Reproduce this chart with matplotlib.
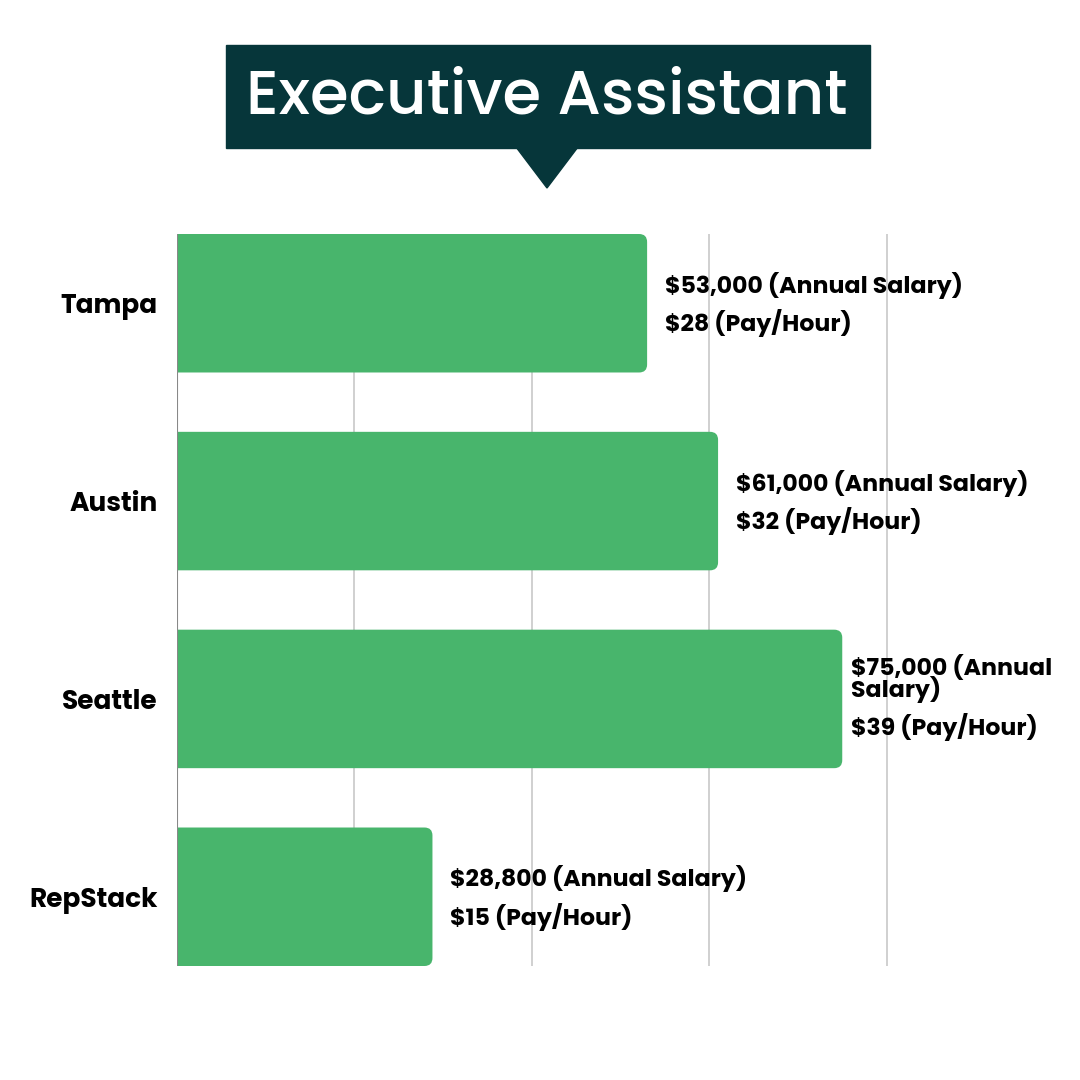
import matplotlib
matplotlib.use("Agg")
import matplotlib.pyplot as plt
from matplotlib.patches import Rectangle, Polygon, FancyBboxPatch

cities = ["Tampa", "Austin", "Seattle", "RepStack"]
salaries = [53000, 61000, 75000, 28800]
salary_labels = ["$53,000 (Annual Salary)", "$61,000 (Annual Salary)", "$75,000 (Annual\nSalary)", "$28,800 (Annual Salary)"]
hourly_labels = ["$28 (Pay/Hour)", "$32 (Pay/Hour)", "$39 (Pay/Hour)", "$15 (Pay/Hour)"]
grid_ticks = [20000, 40000, 60000, 80000]
title = "Executive Assistant"

plt.rcParams['font.family'] = ['Poppins', 'Inter', 'DejaVu Sans']
fig = plt.figure(figsize=(10.8, 10.8), dpi=100)
ax = fig.add_axes([177/1080, 1-966/1080, 887/1080, 732/1080])
ypos = list(range(len(cities)))
ax.set_xlim(0, 100000)
ax.set_ylim(3.35, -0.35)
xpp = 100000/887
ypp = 3.7/732
r = 8
for y, v in zip(ypos, salaries):
    p = FancyBboxPatch((-3000 + r*xpp, y - 0.35 + r*ypp), v + 3000 - 2*r*xpp, 0.7 - 2*r*ypp,
                       boxstyle=f"round,pad={r*xpp}", mutation_aspect=ypp/xpp,
                       facecolor="#48B56C", edgecolor="none", zorder=2)
    ax.add_patch(p)
for t in grid_ticks:
    ax.axvline(t, color="#C8C8C8", lw=1.2, zorder=1)
ax.axvline(0, color="#888888", lw=1.5, zorder=3)
for s in ax.spines.values():
    s.set_visible(False)
ax.set_xticks([])
ax.set_yticks(ypos)
ax.set_yticklabels(cities, fontsize=19, fontweight="bold")
ax.tick_params(axis="y", length=0, pad=14)
fs = 17
for y, v, a, h in zip(ypos, salaries, salary_labels, hourly_labels):
    if "\n" in a:
        ax.annotate(a, (v, y + 0.02), xytext=(9, 0), textcoords="offset pixels", fontsize=fs, fontweight="bold", va="bottom", ha="left", linespacing=0.75)
        ax.annotate(h, (v, y + 0.14), xytext=(9, 0), textcoords="offset pixels", fontsize=fs, fontweight="bold", va="center", ha="left")
    else:
        ax.annotate(a, (v, y - 0.09), xytext=(18, 0), textcoords="offset pixels", fontsize=fs, fontweight="bold", va="center", ha="left")
        ax.annotate(h, (v, y + 0.1), xytext=(18, 0), textcoords="offset pixels", fontsize=fs, fontweight="bold", va="center", ha="left")

# title box
fig.patches.append(Rectangle((226/1080, 1-148/1080), 644/1080, 103/1080, transform=fig.transFigure, color="#06363A"))
fig.patches.append(Polygon([(516/1080, 1-147/1080), (578/1080, 1-147/1080), (547/1080, 1-188/1080)], closed=True, transform=fig.transFigure, color="#06363A"))
fig.text(547/1080, 1-98/1080, title, color="white", fontsize=45, fontweight="medium", ha="center", va="center")
fig.savefig("out.png", dpi=100, facecolor="white")
